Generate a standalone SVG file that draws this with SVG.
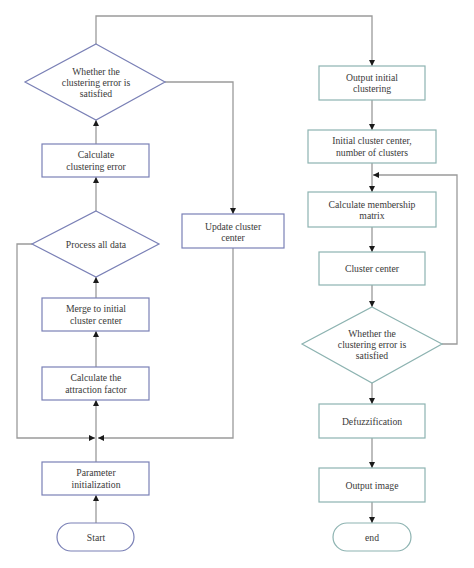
<svg xmlns="http://www.w3.org/2000/svg" width="474" height="568" viewBox="0 0 474 568">
<defs>
<marker id="ah" viewBox="0 0 10 10" refX="10" refY="5" markerWidth="6" markerHeight="6" markerUnits="userSpaceOnUse" orient="auto">
<path d="M0,0 L10,5 L0,10 z" fill="#1a1a1a"/>
</marker>
</defs>
<style>
.bl{fill:#fff;stroke:#7a80b6;stroke-width:1.2}
.tl{fill:#fff;stroke:#8db3b1;stroke-width:1.2}
.c{fill:none;stroke:#9a9a9a;stroke-width:1.3}
text{font-family:"Liberation Serif","Times New Roman",serif;font-size:9.7px;fill:#3a3a3a;text-anchor:middle;dominant-baseline:central}
</style>
<rect width="474" height="568" fill="#fff"/>
<g id="connectors">
<path class="c" d="M96,44 V16 H372 V66" marker-end="url(#ah)"/>
<path class="c" d="M165,82 H233 V214" marker-end="url(#ah)"/>
<path class="c" d="M233,248 V438 H98" marker-end="url(#ah)"/>
<path class="c" d="M32,244 H17 V438 H95" marker-end="url(#ah)"/>
<path class="c" d="M96,144 V120" marker-end="url(#ah)"/>
<path class="c" d="M96,211 V177" marker-end="url(#ah)"/>
<path class="c" d="M96,298 V277" marker-end="url(#ah)"/>
<path class="c" d="M96,367 V331" marker-end="url(#ah)"/>
<path class="c" d="M96,462 V400" marker-end="url(#ah)"/>
<path class="c" d="M96,523 V495" marker-end="url(#ah)"/>
<path class="c" d="M372,100 V130" marker-end="url(#ah)"/>
<path class="c" d="M372,163 V192" marker-end="url(#ah)"/>
<path class="c" d="M442,344 H457 V175 H373" marker-end="url(#ah)"/>
<path class="c" d="M372,227 V252" marker-end="url(#ah)"/>
<path class="c" d="M372,285 V307" marker-end="url(#ah)"/>
<path class="c" d="M372,383 V404" marker-end="url(#ah)"/>
<path class="c" d="M372,438 V468" marker-end="url(#ah)"/>
<path class="c" d="M372,502 V523" marker-end="url(#ah)"/>
</g>
<g id="decision1">
<polygon class="bl" points="96,44 165,82 96,120 25,82"/>
<text x="96" y="71">Whether the</text>
<text x="96" y="82">clustering error is</text>
<text x="96" y="93">satisfied</text>
</g>
<g id="calc-error">
<rect class="bl" x="42" y="144" width="107" height="33"/>
<text x="96" y="154.5">Calculate</text>
<text x="96" y="166">clustering error</text>
</g>
<g id="process-all">
<polygon class="bl" points="96,211 159,244 96,277 32,244"/>
<text x="96" y="244">Process all data</text>
</g>
<g id="update-center">
<rect class="bl" x="182" y="214" width="102" height="34"/>
<text x="233" y="226">Update cluster</text>
<text x="233" y="237.5">center</text>
</g>
<g id="merge">
<rect class="bl" x="42" y="298" width="107" height="33"/>
<text x="96" y="308.5">Merge to initial</text>
<text x="96" y="320">cluster center</text>
</g>
<g id="attraction">
<rect class="bl" x="42" y="367" width="107" height="33"/>
<text x="96" y="377.5">Calculate the</text>
<text x="96" y="389">attraction factor</text>
</g>
<g id="param-init">
<rect class="bl" x="42" y="462" width="107" height="33"/>
<text x="96" y="472.5">Parameter</text>
<text x="96" y="484">initialization</text>
</g>
<g id="start">
<rect class="bl" x="57" y="523" width="77" height="28" rx="14"/>
<text x="96" y="537">Start</text>
</g>
<g id="output-initial">
<rect class="tl" x="319" y="66" width="106" height="34"/>
<text x="372" y="77">Output initial</text>
<text x="372" y="88.5">clustering</text>
</g>
<g id="initial-center">
<rect class="tl" x="308" y="130" width="128" height="33"/>
<text x="372" y="140.5">Initial cluster center,</text>
<text x="372" y="152">number of clusters</text>
</g>
<g id="membership">
<rect class="tl" x="308" y="192" width="128" height="35"/>
<text x="372" y="204">Calculate membership</text>
<text x="372" y="215.5">matrix</text>
</g>
<g id="cluster-center">
<rect class="tl" x="319" y="252" width="106" height="33"/>
<text x="372" y="268">Cluster center</text>
</g>
<g id="decision2">
<polygon class="tl" points="372,307 442,344 372,383 302,344"/>
<text x="372" y="333">Whether the</text>
<text x="372" y="344">clustering error is</text>
<text x="372" y="355">satisfied</text>
</g>
<g id="defuzz">
<rect class="tl" x="319" y="404" width="106" height="34"/>
<text x="372" y="421">Defuzzification</text>
</g>
<g id="output-image">
<rect class="tl" x="319" y="468" width="106" height="34"/>
<text x="372" y="485">Output image</text>
</g>
<g id="end">
<rect class="tl" x="333" y="523" width="78" height="28" rx="14"/>
<text x="372" y="537">end</text>
</g>
</svg>
